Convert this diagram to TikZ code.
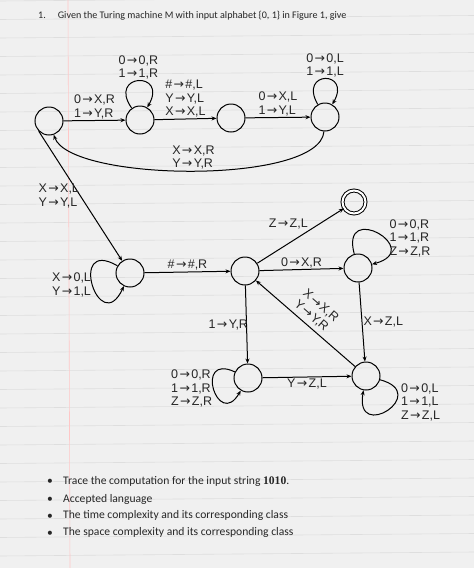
\documentclass[tikz,border=0pt]{standalone}
\usepackage{fontspec}
\setmainfont{Carlito}
\newfontfamily\lblfont{Liberation Sans}
\newfontfamily\arrfont{DejaVu Sans}
\newfontfamily\numfont{Liberation Serif}
\usetikzlibrary{arrows.meta}

\newcommand{\goes}{\makebox[1.05em]{\arrfont\char"2192}}

\begin{document}
\begin{tikzpicture}[x=1pt,y=-1pt,
    >={Stealth[length=5pt,width=4pt]},
    lbl/.style={font=\lblfont\fontsize{12.5}{13.5}\selectfont,align=left,inner sep=1pt,text=black!85},
    txt/.style={font=\fontsize{11.6}{13}\selectfont,text=black!85,inner sep=0pt}]

  \useasboundingbox (0,0) rectangle (474,568);
  \fill[black!6] (0,0) rectangle (474,568);
  \foreach \k in {0,...,31}
    \draw[black!13,line width=0.6pt] (0,1+18.5*\k) -- (474,-3+18.5*\k);
  \draw[red!22,line width=0.6pt] (68,0) -- (70,568);

  % question
  \node[txt,font=\fontsize{10.1}{12}\selectfont,anchor=base west] (title) at (38,18)
    {1.\hspace{12pt}Given the Turing machine M with input alphabet \{0, 1\} in Figure 1, give};

  \begin{scope}[every node/.style={txt}]
    \node (b1) at (50,482) {\textbullet};
    \node (b2) at (50,500) {\textbullet};
    \node (b3) at (50,517) {\textbullet};
    \node (b4) at (50,534) {\textbullet};
    \node[anchor=west] (t1) at (63,481) {Trace the computation for the input string {\numfont\bfseries 1010}.};
    \node[anchor=west] (t2) at (63,499) {Accepted language};
    \node[anchor=west] (t3) at (63,515) {The time complexity and its corresponding class};
    \node[anchor=west] (t4) at (63,532) {The space complexity and its corresponding class};
  \end{scope}

  \begin{scope}[every node/.style={circle,draw,line width=1pt,minimum size=28pt,inner sep=0pt}]
    \node (1)  at (49,121)  {};
    \node (2)  at (140,120) {};
    \node (3)  at (231,118) {};
    \node (4)  at (325,117) {};
    \node (5)  at (130,273) {};
    \node (6)  at (245,271) {};
    \node (7)  at (358,268) {};
    \node[double,double distance=2pt,minimum size=23pt] (8) at (354,202) {};
    \node (9)  at (248,378) {};
    \node (10) at (366,376) {};
  \end{scope}

  \begin{scope}[every node/.style={lbl}]

    \begin{scope}[every edge/.style={draw,->,line width=1pt}]
      \path (1)  edge node[above] {0\goes X,R\\1\goes Y,R} (2);
      \path (2)  edge node[above] {\#\goes\#,L\\Y\goes Y,L\\X\goes X,L} (3);
      \path (3)  edge node[above] {0\goes X,L\\1\goes Y,L} (4);
      \path (1.south west) edge node[left] {X\goes X,L\\Y\goes Y,L} (5);
      \path (5)  edge node[above] {\#\goes\#,R} (6);
      \path (6)  edge node[above left,pos=0.6] {Z\goes Z,L} (8);
      \path (6)  edge node[above] {0\goes X,R} (7);
      \path (7)  edge node[right] {X\goes Z,L} (10);
      \path (6)  edge node[left,xshift=3pt] {1\goes Y,R} (9);
      \path (10) edge node[sloped,above=3pt] {X\goes X,R\\Y\goes Y,R} (6);
      \path (9)  edge node[below] {Y\goes Z,L} (10);
    \end{scope}

    \begin{scope}[every edge/.style={draw,->,line width=1pt,looseness=7}]
      \path (2)  edge[out=125,in=60] node[above] {0\goes 0,R\\1\goes 1,R} (2);
      \path (4)  edge[out=120,in=60] node[above] {0\goes 0,L\\1\goes 1,L} (4);
      \path (5)  edge[out=150,in=-115] node[left] {X\goes 0,L\\Y\goes 1,L} (5);
      \path (7)  edge[out=105,in=15] node[anchor=west,xshift=10pt,yshift=-5pt] {0\goes 0,R\\1\goes 1,R\\Z\goes Z,R} (7);
      \path (9)  edge[out=155,in=-120,looseness=6] node[left] {0\goes 0,R\\1\goes 1,R\\Z\goes Z,R} (9);
      \path (10) edge[out=-15,in=-100] node[anchor=west,xshift=12pt,yshift=8pt] {0\goes 0,L\\1\goes 1,L\\Z\goes Z,L} (10);
    \end{scope}

    \draw[->,line width=1pt] (4) .. controls (320,185) and (70,182) .. node[above] {X\goes X,R\\Y\goes Y,R} (1);

  \end{scope}

\end{tikzpicture}
\end{document}
